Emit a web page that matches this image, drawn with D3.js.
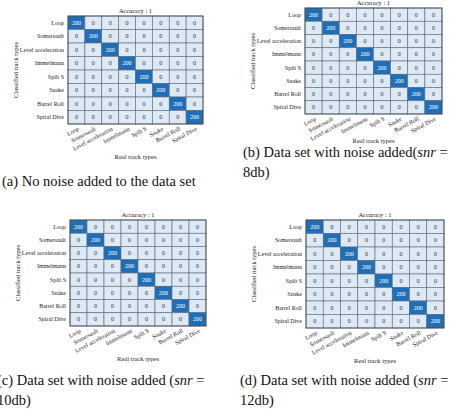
<!DOCTYPE html>
<html><head><meta charset="utf-8">
<script src="https://cdn.jsdelivr.net/npm/d3@7"></script>
<style>body{margin:0;background:#fff}</style>
</head><body>
<script>
const classes = ['Loop','Somersault','Level acceleration','Immelmann','Spilt S','Snake','Barrel Roll','Spiral Dive'];
const diagValue = 200;
// every panel is a perfect confusion matrix
const matrix = classes.map((r,i)=>classes.map((c,j)=>i===j?diagValue:0));
const panels = [
  {x:68, y:16, w:135, h:108, lab:35, cap:[['(a) No noise added to the data set']], cx:2, cy:186},
  {x:305, y:8, w:137, h:106, lab:29, cap:[['(b) Data set with noise added(','snr',' ='],['8db)']], cx:243, cy:157},
  {x:70, y:220, w:136, h:106, lab:35, cap:[['(c) Data set with noise added (','snr',' ='],['10db)']], cx:-3, cy:385},
  {x:306, y:220, w:138, h:108, lab:35, cap:[['(d) Data set with noise added (','snr',' ='],['12db)']], cx:240, cy:385}
];

const svg = d3.select('body').append('svg').attr('width',474).attr('height',409);
const serif = '"Liberation Serif","DejaVu Serif",serif';

panels.forEach(p=>{
  const g = svg.append('g').attr('transform',`translate(${p.x},${p.y})`);
  const x = d3.scaleBand().domain(classes).range([0,p.w]);
  const y = d3.scaleBand().domain(classes).range([0,p.h]);
  const cells = [];
  matrix.forEach((row,i)=>row.forEach((v,j)=>cells.push({r:classes[i],c:classes[j],v})));
  g.selectAll('rect').data(cells).enter().append('rect')
    .attr('x',d=>x(d.c)).attr('y',d=>y(d.r))
    .attr('width',x.bandwidth()).attr('height',y.bandwidth())
    .attr('fill',d=>d.v>0?'#1f6fb8':'#dde9f5')
    .attr('stroke','#5a6a78').attr('stroke-width',0.6);
  g.selectAll('text.v').data(cells).enter().append('text')
    .attr('x',d=>x(d.c)+x.bandwidth()/2).attr('y',d=>y(d.r)+y.bandwidth()/2+2)
    .attr('text-anchor','middle').attr('font-family',serif).attr('font-size',6)
    .attr('fill',d=>d.v>0?'#fff':'#333').text(d=>d.v);
  g.append('rect').attr('width',p.w).attr('height',p.h).attr('fill','none').attr('stroke','#444').attr('stroke-width',0.8);
  g.append('text').attr('x',p.w/2).attr('y',-3).attr('text-anchor','middle')
    .attr('font-family',serif).attr('font-size',6.5).attr('fill','#222').text('Accuracy : 1');
  g.selectAll('text.yl').data(classes).enter().append('text')
    .attr('x',-4).attr('y',d=>y(d)+y.bandwidth()/2+2).attr('text-anchor','end')
    .attr('font-family',serif).attr('font-size',6).attr('fill','#222').text(d=>d);
  g.selectAll('text.xl').data(classes).enter().append('text')
    .attr('transform',d=>`translate(${x(d)+x.bandwidth()/2+3},${p.h+6}) rotate(-28)`)
    .attr('text-anchor','end')
    .attr('font-family',serif).attr('font-size',6).attr('fill','#222').text(d=>d);
  g.append('text').attr('x',p.w/2).attr('y',p.h+p.lab).attr('text-anchor','middle')
    .attr('font-family',serif).attr('font-size',6.5).attr('fill','#222').text('Real track types');
  g.append('text').attr('transform',`translate(-50,${p.h/2}) rotate(-90)`).attr('text-anchor','middle')
    .attr('font-family',serif).attr('font-size',6.5).attr('fill','#222').text('Classified track types');
  p.cap.forEach((parts,k)=>{
    const t = svg.append('text').attr('x',p.cx).attr('y',p.cy+k*20)
      .attr('font-family',serif).attr('font-size',14.5).attr('fill','#111');
    parts.forEach((s,m)=>t.append('tspan').attr('font-style',m===1?'italic':null).text(s));
  });
});
</script>
</body></html>
